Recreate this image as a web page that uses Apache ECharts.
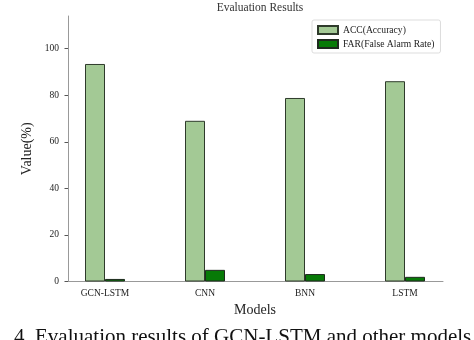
<!DOCTYPE html>
<html lang="en">
<head>
    <meta charset="utf-8">
    <title>Evaluation Results</title>
    <script src="https://cdn.jsdelivr.net/npm/echarts@6/dist/echarts.min.js"></script>
    <style>
        html, body { margin: 0; padding: 0; background: #fff; }
        #chart { width: 474px; height: 340px; }
    </style>
</head>
<body>
    <div id="chart"></div>
    <script type="text/javascript">
        // 数据
        var models = ["GCN-LSTM", "CNN", "BNN", "LSTM"];
        var accValues = [93.4, 69.0, 78.8, 86.0];
        var farValues = [1.1, 5.0, 3.2, 2.0];
        var yTicks = [0, 20, 40, 60, 80, 100];

        var serif = "Liberation Serif";
        var chart = echarts.init(document.getElementById("chart"));
        var option = {
            backgroundColor: "#fff",
            animation: false,
            textStyle: { fontFamily: serif },
            title: {
                text: "Evaluation Results",
                left: 255,
                textAlign: "center",
                top: -3,
                textStyle: { fontFamily: serif, fontSize: 11.5, fontWeight: "normal", color: "#333" }
            },
            legend: {
                orient: "vertical",
                left: 312,
                top: 20,
                padding: [5, 6, 4, 5],
                itemGap: 4,
                itemWidth: 20,
                itemHeight: 8,
                icon: "rect",
                borderColor: "#ddd",
                borderWidth: 1,
                borderRadius: 2,
                textStyle: { fontFamily: serif, fontSize: 9.6, color: "#222" },
                data: ["ACC(Accuracy)", "FAR(False Alarm Rate)"]
            },
            grid: [
                { left: 55, width: 400, top: 16, bottom: 58.5 },
                { left: 68, right: 31, top: 16, bottom: 58.5 }
            ],
            xAxis: [
                {
                    gridIndex: 0,
                    type: "category",
                    data: models,
                    axisLine: { show: false },
                    axisTick: { show: false },
                    axisLabel: { fontFamily: serif, fontSize: 9.5, color: "#222", margin: 7 },
                    name: "Models",
                    nameLocation: "middle",
                    nameGap: 20,
                    nameTextStyle: { fontFamily: serif, fontSize: 14, color: "#222" }
                },
                {
                    gridIndex: 1,
                    type: "value",
                    min: 0,
                    max: 1,
                    axisLine: { show: true, lineStyle: { color: "#999", width: 1 } },
                    axisTick: { show: false },
                    axisLabel: { show: false },
                    splitLine: { show: false }
                }
            ],
            yAxis: [
                {
                    gridIndex: 0,
                    type: "value",
                    min: 0,
                    max: 114,
                    show: false
                },
                {
                    gridIndex: 1,
                    type: "value",
                    min: 0,
                    max: 114,
                    axisLine: { show: true, lineStyle: { color: "#999", width: 1 } },
                    axisTick: { show: true, length: 3.5, customValues: yTicks, lineStyle: { color: "#555" } },
                    axisLabel: { customValues: yTicks, fontFamily: serif, fontSize: 9.5, color: "#222", margin: 9 },
                    splitLine: { show: false },
                    name: "Value(%)",
                    nameLocation: "middle",
                    nameRotate: 90,
                    nameGap: 22,
                    nameTextStyle: { fontFamily: serif, fontSize: 14, color: "#222" }
                }
            ],
            series: [
                {
                    name: "ACC(Accuracy)",
                    type: "bar",
                    xAxisIndex: 0,
                    yAxisIndex: 0,
                    barWidth: 20,
                    barGap: "0%",
                    data: accValues,
                    itemStyle: { color: "#a3c995", borderColor: "#2e3a2b", borderWidth: 1 }
                },
                {
                    name: "FAR(False Alarm Rate)",
                    type: "bar",
                    xAxisIndex: 0,
                    yAxisIndex: 0,
                    barWidth: 20,
                    barGap: "0%",
                    data: farValues,
                    itemStyle: { color: "#077a07", borderColor: "#1e2a1e", borderWidth: 1 }
                }
            ],
            graphic: [
                {
                    type: "text",
                    left: 14,
                    top: 327,
                    style: {
                        text: "4. Evaluation results of GCN-LSTM and other models on the",
                        fontFamily: serif,
                        fontSize: 21,
                        fill: "#111"
                    }
                }
            ]
        };
        chart.setOption(option);
    </script>
</body>
</html>
